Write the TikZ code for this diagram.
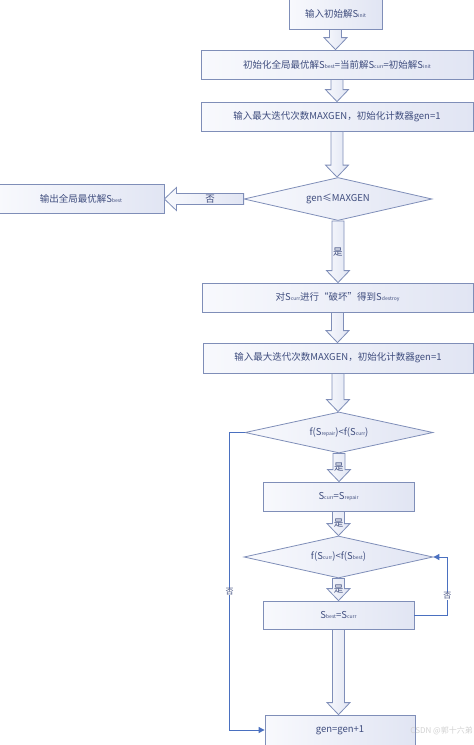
\documentclass[tikz,border=0pt]{standalone}
\usepackage{fontspec}
\setmainfont{Noto Sans CJK SC}
\usetikzlibrary{shapes.geometric,calc,arrows.meta}
\definecolor{bordc}{HTML}{7F8EB8}
\definecolor{fillL}{HTML}{F8F9FD}
\definecolor{fillR}{HTML}{E1E5F3}
\definecolor{linec}{HTML}{4A70C0}
\definecolor{txtc}{HTML}{3F4D7E}
\newcommand{\subtx}[1]{{\fontsize{5}{6}\selectfont #1}}
\newcommand{\Sx}[1]{S\subtx{#1}}
\tikzset{
  box/.style={draw=bordc, line width=0.8pt, left color=fillL, right color=fillR,
    text=txtc, font=\fontsize{9.5}{11}\selectfont, inner sep=0pt, anchor=center},
  dia/.style={diamond, draw=bordc, line width=0.8pt, left color=fillL, right color=fillR,
    text=txtc, font=\fontsize{9.5}{11}\selectfont, inner sep=0pt, aspect=4},
  blockarr/.style={draw=bordc, line width=0.8pt, left color=fillL, right color=fillR},
  conn/.style={draw=linec, line width=0.9pt, -{Triangle[length=6pt,width=6pt]}},
  lab/.style={text=txtc, font=\fontsize{9.5}{11}\selectfont, inner sep=0.5pt},
}
\newcommand{\varr}[2]{%
  \path[blockarr] let \p1=(#1.south), \p2=(#2.north) in
  ({\x1-6pt},\y1) -- ({\x1+6pt},\y1) -- ({\x1+6pt},{\y2+12pt}) -- ({\x1+11.5pt},{\y2+12pt})
  -- (\x1,\y2) -- ({\x1-11.5pt},{\y2+12pt}) -- ({\x1-6pt},{\y2+12pt}) -- cycle;}
\begin{document}
\begin{tikzpicture}[x=1pt,y=-1pt]
\useasboundingbox (0,0) rectangle (474,745);
% nodes
\node[box, minimum width=93, minimum height=30] (b1) at (335.5,14) {输入初始解\Sx{init}};
\node[box, minimum width=272, minimum height=29] (b2) at (337,64.5) {初始化全局最优解\Sx{best}=当前解\Sx{curr}=初始解\Sx{init}};
\node[box, minimum width=272, minimum height=29] (b3) at (337,116.5) {输入最大迭代次数MAXGEN，初始化计数器gen=1};
\node[dia, minimum width=188, minimum height=43] (d1) at (338,199) {gen≤MAXGEN};
\node[box, minimum width=166, minimum height=29] (out) at (81,198.5) {输出全局最优解\Sx{best}};
\node[box, minimum width=271, minimum height=29] (b4) at (337.5,297.5) {对\Sx{curr}进行“破坏”得到\Sx{destroy}};
\node[box, minimum width=270, minimum height=30] (b5) at (338,358) {输入最大迭代次数MAXGEN，初始化计数器gen=1};
\node[dia, minimum width=188, minimum height=41] (d2) at (339,432.5) {f(\Sx{repair})<f(\Sx{curr})};
\node[box, minimum width=151, minimum height=29] (b6) at (338.5,496.5) {\Sx{curr}=\Sx{repair}};
\node[dia, minimum width=189, minimum height=42] (d3) at (338.5,557) {f(\Sx{curr})<f(\Sx{best})};
\node[box, minimum width=151, minimum height=28] (b7) at (338.5,615) {\Sx{best}=\Sx{curr}};
\node[box, minimum width=150, minimum height=30] (b8) at (340,730) {gen=gen+1};
% block arrows
\varr{b1}{b2}
\varr{b2}{b3}
\varr{b3}{d1}
\varr{d1}{b4}
\varr{b4}{b5}
\varr{b5}{d2}
\varr{d2}{b6}
\varr{b6}{d3}
\varr{d3}{b7}
\varr{b7}{b8}
\path[blockarr] let \p1=(d1.west), \p2=(out.east) in
  (\x1,{\y1+5.5pt}) -- (\x1,{\y1-5.5pt}) -- ({\x2+12pt},{\y1-5.5pt}) -- ({\x2+12pt},{\y1-11.5pt})
  -- (\x2,\y1) -- ({\x2+12pt},{\y1+11.5pt}) -- ({\x2+12pt},{\y1+5.5pt}) -- cycle;
% labels on block arrows
\node[lab] (l1) at ($(d1.west)!0.5!(out.east)+(6,0)$) {否};
\node[lab] (l2) at ($(d1.south)!0.5!(b4.north)$) {是};
\node[lab] (l3) at ($(d2.south)!0.5!(b6.north)$) {是};
\node[lab] (l4) at ($(b6.south)!0.5!(d3.north)$) {是};
\node[lab] (l5) at ($(d3.south)!0.5!(b7.north)$) {是};
% thin connectors
\draw[conn] (d2.west) -- ++(-15,0) coordinate (c1) |- (b8.west);
\node[lab, fill=white, font=\fontsize{8}{9}\selectfont] (n1) at ($(c1)+(0,159)$) {否};
\draw[conn] (b7.east) -- ++(33,0) coordinate (c2) |- (d3.east);
\node[lab, fill=white, font=\fontsize{8}{9}\selectfont] (n2) at ($(c2)+(0,-19)$) {否};
% watermark
\node[text=black!18, font=\fontsize{8}{9}\selectfont, anchor=east, inner sep=0pt] (wm) at (473,731) {CSDN @郭十六弟};
\end{tikzpicture}
\end{document}
